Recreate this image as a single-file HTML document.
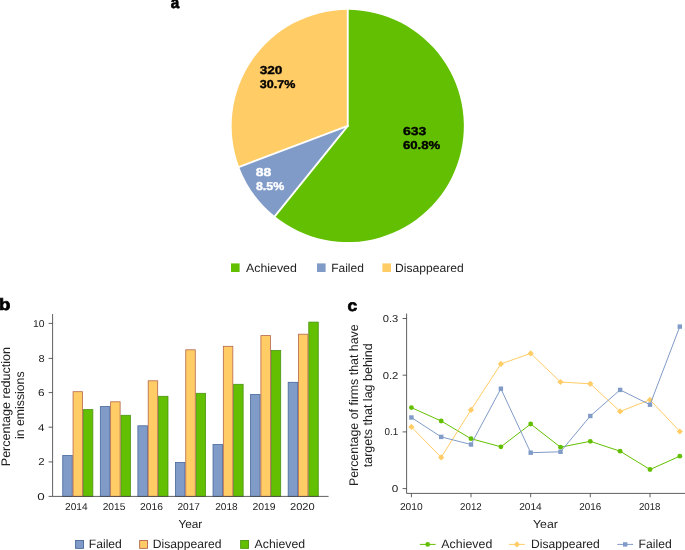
<!DOCTYPE html>
<html lang="en">
<head>
<meta charset="utf-8">
<title>Figure</title>
<style>
html,body{margin:0;padding:0;background:#ffffff;}
body{width:685px;height:550px;overflow:hidden;}
svg{display:block;text-rendering:geometricPrecision;}
text{font-family:"Liberation Sans",Arial,Helvetica,sans-serif;fill:#222222;}
.b{font-weight:bold;fill:#000000;stroke:#000000;stroke-width:0.7px;}
.pl{font-weight:bold;fill:#000000;stroke:#000000;stroke-width:0.35px;}
.pw{font-weight:bold;fill:#ffffff;stroke:#ffffff;stroke-width:0.35px;}
.ax{stroke:#444444;stroke-width:0.85;fill:none;}
</style>
</head>
<body>
<svg width="685" height="550" viewBox="0 0 685 550">
<rect x="0" y="0" width="685" height="550" fill="#ffffff"/>

<g id="panel-a">
<text class="b" font-size="16.40" transform="translate(170.69 8.40) scale(0.928 1)">a</text>
<path d="M347.75 125.95 L347.75 9.85 A116.10 116.10 0 1 1 274.84 216.30 Z" fill="#63bf02"/>
<path d="M347.75 125.95 L274.84 216.30 A116.10 116.10 0 0 1 239.12 166.92 Z" fill="#809bc8"/>
<path d="M347.75 125.95 L239.12 166.92 A116.10 116.10 0 0 1 347.75 9.85 Z" fill="#ffcc66"/>
<path d="M347.75 125.95 L347.75 8.69" stroke="#ffffff" stroke-width="1.9" stroke-linecap="round"/>
<path d="M347.75 125.95 L274.11 217.20" stroke="#ffffff" stroke-width="1.9" stroke-linecap="round"/>
<path d="M347.75 125.95 L238.03 167.33" stroke="#ffffff" stroke-width="1.9" stroke-linecap="round"/>
<text class="pl" font-size="11.40" transform="translate(402.88 134.70) scale(1.226 1)">633</text>
<text class="pl" font-size="11.40" transform="translate(402.90 148.80) scale(1.158 1)">60.8%</text>
<text class="pl" font-size="11.40" transform="translate(259.69 73.50) scale(1.197 1)">320</text>
<text class="pl" font-size="11.40" transform="translate(259.72 87.80) scale(1.101 1)">30.7%</text>
<text class="pw" font-size="11.40" transform="translate(255.85 175.90) scale(1.223 1)">88</text>
<text class="pw" font-size="11.40" transform="translate(255.90 190.30) scale(1.091 1)">8.5%</text>
<rect x="231.00" y="263.40" width="8.60" height="8.60" fill="#63bf02"/>
<text font-size="11.90" transform="translate(245.97 272.00) scale(1.040 1)">Achieved</text>
<rect x="317.00" y="263.40" width="8.60" height="8.60" fill="#809bc8"/>
<text font-size="11.90" transform="translate(331.21 272.00) scale(1.007 1)">Failed</text>
<rect x="382.40" y="263.40" width="8.60" height="8.60" fill="#ffcc66"/>
<text font-size="11.90" transform="translate(395.10 272.00) scale(1.016 1)">Disappeared</text>
</g>
<g id="panel-b">
<text class="b" font-size="16.40" transform="translate(-0.96 309.50) scale(1.135 1)">b</text>
<rect x="62.75" y="455.40" width="9.50" height="41.00" fill="#809bc8" stroke="#46689b" stroke-width="0.8"/>
<rect x="83.35" y="409.60" width="9.50" height="86.80" fill="#63bf02" stroke="#4b9410" stroke-width="0.8"/>
<rect x="73.05" y="391.70" width="9.50" height="104.70" fill="#ffcc66" stroke="#b5654a" stroke-width="0.8"/>
<rect x="100.32" y="406.60" width="9.50" height="89.80" fill="#809bc8" stroke="#46689b" stroke-width="0.8"/>
<rect x="120.92" y="415.30" width="9.50" height="81.10" fill="#63bf02" stroke="#4b9410" stroke-width="0.8"/>
<rect x="110.62" y="401.80" width="9.50" height="94.60" fill="#ffcc66" stroke="#b5654a" stroke-width="0.8"/>
<rect x="137.89" y="425.80" width="9.50" height="70.60" fill="#809bc8" stroke="#46689b" stroke-width="0.8"/>
<rect x="158.49" y="396.30" width="9.50" height="100.10" fill="#63bf02" stroke="#4b9410" stroke-width="0.8"/>
<rect x="148.19" y="380.80" width="9.50" height="115.60" fill="#ffcc66" stroke="#b5654a" stroke-width="0.8"/>
<rect x="175.46" y="462.50" width="9.50" height="33.90" fill="#809bc8" stroke="#46689b" stroke-width="0.8"/>
<rect x="196.06" y="393.30" width="9.50" height="103.10" fill="#63bf02" stroke="#4b9410" stroke-width="0.8"/>
<rect x="185.76" y="349.80" width="9.50" height="146.60" fill="#ffcc66" stroke="#b5654a" stroke-width="0.8"/>
<rect x="213.03" y="444.50" width="9.50" height="51.90" fill="#809bc8" stroke="#46689b" stroke-width="0.8"/>
<rect x="233.63" y="384.30" width="9.50" height="112.10" fill="#63bf02" stroke="#4b9410" stroke-width="0.8"/>
<rect x="223.33" y="346.30" width="9.50" height="150.10" fill="#ffcc66" stroke="#b5654a" stroke-width="0.8"/>
<rect x="250.60" y="394.40" width="9.50" height="102.00" fill="#809bc8" stroke="#46689b" stroke-width="0.8"/>
<rect x="271.20" y="350.50" width="9.50" height="145.90" fill="#63bf02" stroke="#4b9410" stroke-width="0.8"/>
<rect x="260.90" y="335.60" width="9.50" height="160.80" fill="#ffcc66" stroke="#b5654a" stroke-width="0.8"/>
<rect x="288.17" y="382.30" width="9.50" height="114.10" fill="#809bc8" stroke="#46689b" stroke-width="0.8"/>
<rect x="308.77" y="322.10" width="9.50" height="174.30" fill="#63bf02" stroke="#4b9410" stroke-width="0.8"/>
<rect x="298.47" y="334.20" width="9.50" height="162.20" fill="#ffcc66" stroke="#b5654a" stroke-width="0.8"/>
<path class="ax" d="M52.6 314 V496.4 H328.6"/>
<path class="ax" d="M48.6 496.4 H52.6"/>
<text font-size="10.00" transform="translate(37.16 499.80) scale(1.340 1)">0</text>
<path class="ax" d="M48.6 461.9 H52.6"/>
<text font-size="10.00" transform="translate(38.33 465.30) scale(1.143 1)">2</text>
<path class="ax" d="M48.6 427.2 H52.6"/>
<text font-size="10.00" transform="translate(37.94 430.60) scale(1.168 1)">4</text>
<path class="ax" d="M48.6 392.6 H52.6"/>
<text font-size="10.00" transform="translate(38.01 396.00) scale(1.189 1)">6</text>
<path class="ax" d="M48.6 358.4 H52.6"/>
<text font-size="10.00" transform="translate(38.43 361.80) scale(1.106 1)">8</text>
<path class="ax" d="M48.6 323.4 H52.6"/>
<text font-size="10.00" transform="translate(33.03 326.80) scale(1.033 1)">10</text>
<text font-size="10.00" transform="translate(65.09 510.00) scale(1.012 1)">2014</text>
<text font-size="10.00" transform="translate(102.69 510.00) scale(1.018 1)">2015</text>
<text font-size="10.00" transform="translate(140.09 510.00) scale(1.028 1)">2016</text>
<text font-size="10.00" transform="translate(177.39 510.00) scale(1.013 1)">2017</text>
<text font-size="10.00" transform="translate(215.20 510.00) scale(1.009 1)">2018</text>
<text font-size="10.00" transform="translate(252.38 510.00) scale(1.039 1)">2019</text>
<text font-size="10.00" transform="translate(290.05 510.00) scale(1.105 1)">2020</text>
<text font-size="11.60" transform="translate(178.43 527.70) scale(1.018 1)">Year</text>
<text font-size="12.40" transform="translate(10.00 466.24) rotate(-90) scale(1.013 1)">Percentage reduction</text>
<text font-size="12.40" transform="translate(24.00 439.03) rotate(-90) scale(0.992 1)">in emissions</text>
<rect x="75.60" y="540.50" width="7.85" height="7.85" fill="#809bc8" stroke="#46689b" stroke-width="0.9"/>
<text font-size="12.10" transform="translate(88.80 547.60) scale(1.004 1)">Failed</text>
<rect x="139.65" y="540.50" width="7.85" height="7.85" fill="#ffcc66" stroke="#b5654a" stroke-width="0.9"/>
<text font-size="12.10" transform="translate(152.70 547.60) scale(1.004 1)">Disappeared</text>
<rect x="240.65" y="540.50" width="7.85" height="7.85" fill="#63bf02" stroke="#4b9410" stroke-width="0.9"/>
<text font-size="12.10" transform="translate(254.57 547.60) scale(1.017 1)">Achieved</text>
</g>
<g id="panel-c">
<text class="b" font-size="16.20" transform="translate(347.56 310.65) scale(1.070 1)">c</text>
<polyline fill="none" stroke="#63bf02" stroke-width="1.0" stroke-linejoin="round" points="411.4,407.6 441.2,421.0 471.0,438.7 500.9,446.8 530.7,424.0 560.5,447.2 590.3,441.3 620.1,451.2 650.0,469.5 679.8,456.2"/>
<circle cx="411.4" cy="407.6" r="2.4" fill="#63bf02"/>
<circle cx="441.2" cy="421.0" r="2.4" fill="#63bf02"/>
<circle cx="471.0" cy="438.7" r="2.4" fill="#63bf02"/>
<circle cx="500.9" cy="446.8" r="2.4" fill="#63bf02"/>
<circle cx="530.7" cy="424.0" r="2.4" fill="#63bf02"/>
<circle cx="560.5" cy="447.2" r="2.4" fill="#63bf02"/>
<circle cx="590.3" cy="441.3" r="2.4" fill="#63bf02"/>
<circle cx="620.1" cy="451.2" r="2.4" fill="#63bf02"/>
<circle cx="650.0" cy="469.5" r="2.4" fill="#63bf02"/>
<circle cx="679.8" cy="456.2" r="2.4" fill="#63bf02"/>
<polyline fill="none" stroke="#ffcc66" stroke-width="1.0" stroke-linejoin="round" points="411.4,426.9 441.2,457.4 471.0,409.9 500.9,363.9 530.7,353.4 560.5,382.0 590.3,383.8 620.1,411.4 650.0,399.8 679.8,431.5"/>
<path d="M411.4 423.8 l3.1 3.1 l-3.1 3.1 l-3.1 -3.1 Z" fill="#ffcc66"/>
<path d="M441.2 454.3 l3.1 3.1 l-3.1 3.1 l-3.1 -3.1 Z" fill="#ffcc66"/>
<path d="M471.0 406.8 l3.1 3.1 l-3.1 3.1 l-3.1 -3.1 Z" fill="#ffcc66"/>
<path d="M500.9 360.8 l3.1 3.1 l-3.1 3.1 l-3.1 -3.1 Z" fill="#ffcc66"/>
<path d="M530.7 350.3 l3.1 3.1 l-3.1 3.1 l-3.1 -3.1 Z" fill="#ffcc66"/>
<path d="M560.5 378.9 l3.1 3.1 l-3.1 3.1 l-3.1 -3.1 Z" fill="#ffcc66"/>
<path d="M590.3 380.7 l3.1 3.1 l-3.1 3.1 l-3.1 -3.1 Z" fill="#ffcc66"/>
<path d="M620.1 408.3 l3.1 3.1 l-3.1 3.1 l-3.1 -3.1 Z" fill="#ffcc66"/>
<path d="M650.0 396.7 l3.1 3.1 l-3.1 3.1 l-3.1 -3.1 Z" fill="#ffcc66"/>
<path d="M679.8 428.4 l3.1 3.1 l-3.1 3.1 l-3.1 -3.1 Z" fill="#ffcc66"/>
<polyline fill="none" stroke="#809bc8" stroke-width="1.0" stroke-linejoin="round" points="411.4,417.5 441.2,436.9 471.0,444.5 500.9,388.7 530.7,452.7 560.5,451.8 590.3,416.0 620.1,389.9 650.0,404.7 679.8,326.6"/>
<rect x="409.2" y="415.3" width="4.4" height="4.4" fill="#809bc8"/>
<rect x="439.0" y="434.7" width="4.4" height="4.4" fill="#809bc8"/>
<rect x="468.8" y="442.3" width="4.4" height="4.4" fill="#809bc8"/>
<rect x="498.7" y="386.5" width="4.4" height="4.4" fill="#809bc8"/>
<rect x="528.5" y="450.5" width="4.4" height="4.4" fill="#809bc8"/>
<rect x="558.3" y="449.6" width="4.4" height="4.4" fill="#809bc8"/>
<rect x="588.1" y="413.8" width="4.4" height="4.4" fill="#809bc8"/>
<rect x="617.9" y="387.7" width="4.4" height="4.4" fill="#809bc8"/>
<rect x="647.8" y="402.5" width="4.4" height="4.4" fill="#809bc8"/>
<rect x="677.6" y="324.4" width="4.4" height="4.4" fill="#809bc8"/>
<path class="ax" d="M406.6 313.5 V493.4 H685"/>
<path class="ax" d="M402.6 488.6 H406.6"/>
<text font-size="10.00" transform="translate(391.73 492.00) scale(1.173 1)">0</text>
<path class="ax" d="M402.6 431.9 H406.6"/>
<text font-size="10.00" transform="translate(384.61 435.30) scale(0.983 1)">0.1</text>
<path class="ax" d="M402.6 375.2 H406.6"/>
<text font-size="10.00" transform="translate(382.75 378.60) scale(1.123 1)">0.2</text>
<path class="ax" d="M402.6 318.5 H406.6"/>
<text font-size="10.00" transform="translate(382.75 321.90) scale(1.117 1)">0.3</text>
<path class="ax" d="M411.4 493.4 V497.3"/>
<text font-size="10.00" transform="translate(399.89 510.00) scale(1.021 1)">2010</text>
<path class="ax" d="M471.0 493.4 V497.3"/>
<text font-size="10.00" transform="translate(460.11 510.00) scale(0.971 1)">2012</text>
<path class="ax" d="M530.7 493.4 V497.3"/>
<text font-size="10.00" transform="translate(519.17 510.00) scale(1.016 1)">2014</text>
<path class="ax" d="M590.3 493.4 V497.3"/>
<text font-size="10.00" transform="translate(579.21 510.00) scale(0.986 1)">2016</text>
<path class="ax" d="M650.0 493.4 V497.3"/>
<text font-size="10.00" transform="translate(638.92 510.00) scale(0.967 1)">2018</text>
<text font-size="11.60" transform="translate(533.02 527.70) scale(1.061 1)">Year</text>
<text font-size="12.50" transform="translate(357.90 486.12) rotate(-90) scale(0.991 1)">Percentage of firms that have</text>
<text font-size="12.50" transform="translate(371.90 467.29) rotate(-90) scale(1.002 1)">targets that lag behind</text>
<path d="M419.8 544.4 H435.6" stroke="#63bf02" stroke-width="1.0"/>
<circle cx="427.7" cy="544.4" r="2.4" fill="#63bf02"/>
<text font-size="12.10" transform="translate(441.37 547.60) scale(1.023 1)">Achieved</text>
<path d="M509.0 544.4 H524.8" stroke="#ffcc66" stroke-width="1.0"/>
<path d="M516.9 541.3 l3.1 3.1 l-3.1 3.1 l-3.1 -3.1 Z" fill="#ffcc66"/>
<text font-size="12.10" transform="translate(531.00 547.60) scale(1.001 1)">Disappeared</text>
<path d="M617.3 544.4 H633.1" stroke="#809bc8" stroke-width="1.0"/>
<rect x="623.0" y="542.2" width="4.4" height="4.4" fill="#809bc8"/>
<text font-size="12.10" transform="translate(638.59 547.60) scale(1.007 1)">Failed</text>
</g>
</svg>
</body>
</html>
